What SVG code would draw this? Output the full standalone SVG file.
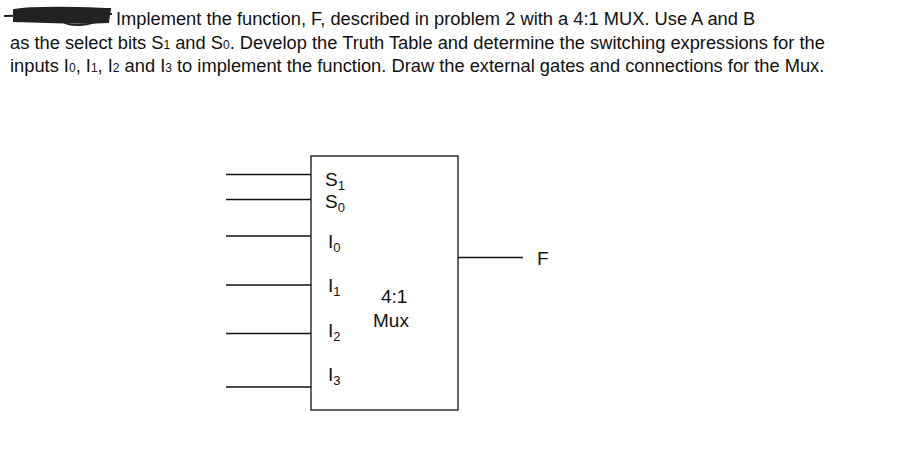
<svg xmlns="http://www.w3.org/2000/svg" width="902" height="453" viewBox="0 0 902 453">
<style>
text{font-family:"Liberation Sans",Arial,sans-serif;fill:#111}
.p{font-size:18.3px}
.l{font-size:19px}
.s{font-size:13px}
line,.box{stroke:#111;stroke-width:1.3;fill:none}
</style>
<rect width="902" height="453" fill="#fff"/>
<path d="M4 16 L112 14 M14 10 C40 6 80 8 110 9 L108 22 C80 24 40 22 14 21 Z" fill="#222" stroke="#222" stroke-width="2"/>
<path d="M60 20 C70 28 90 26 104 18" stroke="#222" stroke-width="2" fill="none"/>
<text class="p" x="116" y="25">Implement the function, F, described in problem 2 with a 4:1 MUX. Use A and B</text>
<text class="p" x="10" y="49">as the select bits S<tspan font-size="12">1</tspan> and S<tspan font-size="12">0</tspan>. Develop the Truth Table and determine the switching expressions for the</text>
<text class="p" x="10" y="72">inputs I<tspan font-size="12">0</tspan>, I<tspan font-size="12">1</tspan>, I<tspan font-size="12">2</tspan> and I<tspan font-size="12">3</tspan> to implement the function. Draw the external gates and connections for the Mux.</text>
<g id="connectors">
<line x1="226" y1="174.5" x2="311" y2="174.5"/>
<line x1="226" y1="199.5" x2="311" y2="199.5"/>
<line x1="226" y1="236" x2="311" y2="236"/>
<line x1="226" y1="285" x2="311" y2="285"/>
<line x1="226" y1="333.5" x2="311" y2="333.5"/>
<line x1="226" y1="387" x2="311" y2="387"/>
<line x1="458" y1="257.5" x2="523" y2="257.5"/>
</g>
<g id="mux">
<rect class="box" x="311" y="156" width="147" height="254"/>
<text class="l" x="325" y="186">S<tspan class="s" dy="4">1</tspan></text>
<text class="l" x="325" y="208">S<tspan class="s" dy="4">0</tspan></text>
<text class="l" x="328" y="248">I<tspan class="s" dy="4">0</tspan></text>
<text class="l" x="328" y="292">I<tspan class="s" dy="4">1</tspan></text>
<text class="l" x="328" y="337">I<tspan class="s" dy="4">2</tspan></text>
<text class="l" x="328" y="381">I<tspan class="s" dy="4">3</tspan></text>
<text class="l" x="381" y="303">4:1</text>
<text class="l" x="373" y="327">Mux</text>
</g>
<g id="output"><text class="l" x="537" y="265">F</text></g>
</svg>
